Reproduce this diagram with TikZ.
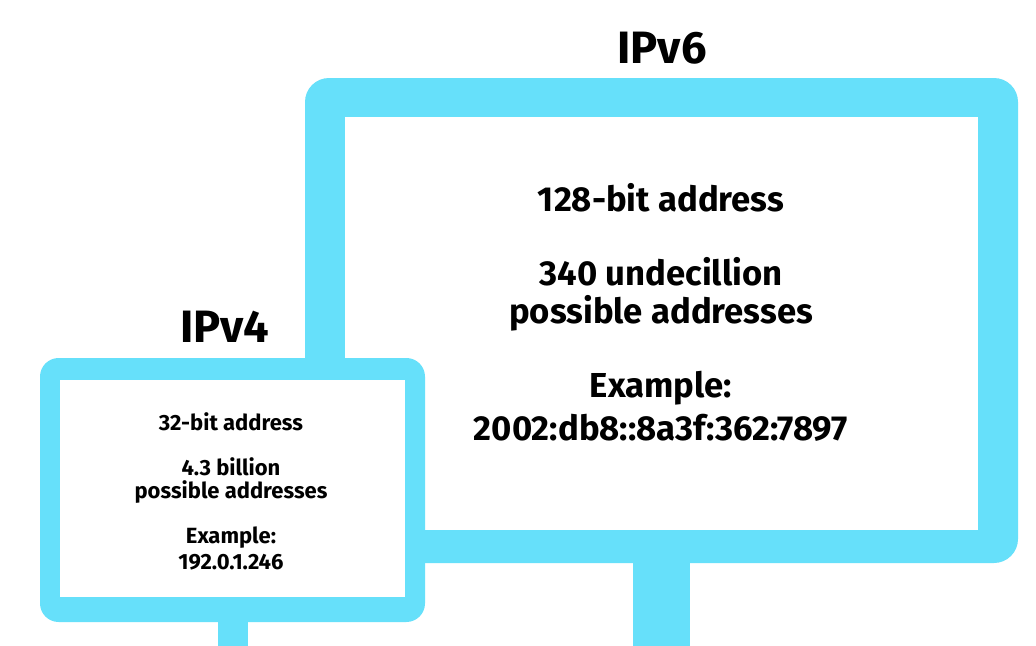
\documentclass[tikz,border=0pt]{standalone}
\usepackage{fontspec}
\setmainfont{Fira Sans}
\begin{document}
\begin{tikzpicture}[x=0.75pt,y=-0.75pt,
  cy/.style={fill=cyanc,draw=none},
  wh/.style={fill=white,draw=none},
  big/.style={font=\fontsize{26}{28}\selectfont\bfseries,anchor=center},
  small/.style={font=\fontsize{16.5}{17}\selectfont\bfseries,anchor=center},
  ttl/.style={font=\fontsize{34}{40}\selectfont\bfseries,anchor=center}]
\definecolor{cyanc}{HTML}{66E0FA}
\useasboundingbox (0,0) rectangle (1036,646);
\fill[white] (0,0) rectangle (1036,646);
% IPv6 monitor
\fill[cy] (633,555) rectangle (690,646);
\fill[cy,rounded corners=18] (305,78) rectangle (1018,563);
\fill[wh] (345,117) rectangle (978,530);
% IPv4 monitor
\fill[cy] (218,615) rectangle (248,646);
\fill[cy,rounded corners=14] (40,358) rectangle (425,622);
\fill[wh] (60,380) rectangle (405,597);
\node[ttl] (t6) at (662,48) {IPv6};
\node[ttl] (t4) at (225,327) {IPv4};
\node[big] (a6) at (661,198) {128-bit address};
\node[big] (b6) at (661,272) {340 undecillion};
\node[big] (c6) at (661,313) {possible addresses};
\node[big] (d6) at (661,388) {Example:};
\node[big] (e6) at (661,428) {2002:db8::8a3f:362:7897};
\node[small] (a4) at (231,422) {32-bit address};
\node[small] (b4) at (231,467) {4.3 billion};
\node[small] (c4) at (231,492) {possible addresses};
\node[small] (d4) at (231,538) {Example:};
\node[small] (e4) at (231,562) {192.0.1.246};
\end{tikzpicture}
\end{document}
